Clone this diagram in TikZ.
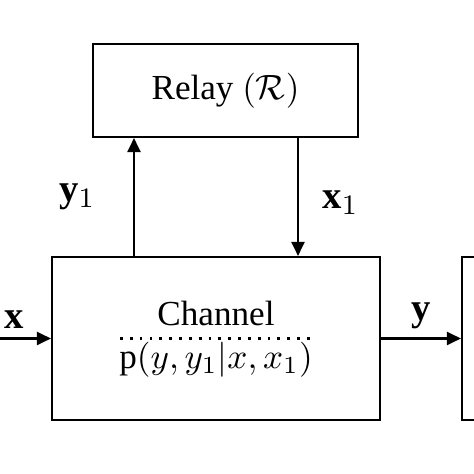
\documentclass[tikz,border=0pt]{standalone}
\usepackage{fontspec}
\setmainfont{Liberation Serif}
\usetikzlibrary{
	arrows.meta,
	positioning,
	calc
}
\tikzset{
	block/.style={
		draw,
		semithick,
		inner sep=0pt
	},
	sig/.style={
		semithick,
		-{Triangle[length=1.4mm,width=1.3mm]}
	},
	siglabel/.style={
		font=\fontsize{11}{13}\selectfont\bfseries,
		inner sep=1pt
	}
}

\begin{document}
\begin{tikzpicture}
		\useasboundingbox (0,0) rectangle (4.74,4.74);
		% boxes
		\node [block, minimum width=2.65cm, minimum height=0.93cm] (relay) at (2.255,3.835) {Relay $(\mathcal{R})$};
		\node [block, minimum width=3.28cm, minimum height=1.63cm] (chan) at (2.16,1.355) {};
		\node [block, minimum width=1.5cm, minimum height=1.63cm] (dest) at (5.37,1.355) {};
		\node [anchor=base] (chname) at ($(chan.center)+(0,0.13)$) {Channel};
		\node [anchor=base] (chlaw) at ($(chan.center)+(0,-0.3)$) {p$(y,y_1|x,x_1)$};
		\draw [dotted, thick] ($(chan.center)+(-0.96,0)$) -- ($(chan.center)+(0.96,0)$);
		% links
		\coordinate (yone) at (1.34,0);
		\coordinate (xone) at (2.98,0);
		\coordinate (src) at (0,1.355);
		\draw [sig] (yone |- chan.north) -- node [siglabel, midway, left=3.4mm] {y$_1$} (yone |- relay.south);
		\draw [sig] (xone |- relay.south) -- node [siglabel, pos=0.55, right=2mm] {x$_1$} (xone |- chan.north);
		\draw [sig] (src) -- node [siglabel, pos=0.27, above=0.5mm] {x} (chan.west);
		\draw [sig] (chan.east) -- node [siglabel, midway, above=0.5mm] {y} (dest.west);
	\end{tikzpicture}
\end{document}
